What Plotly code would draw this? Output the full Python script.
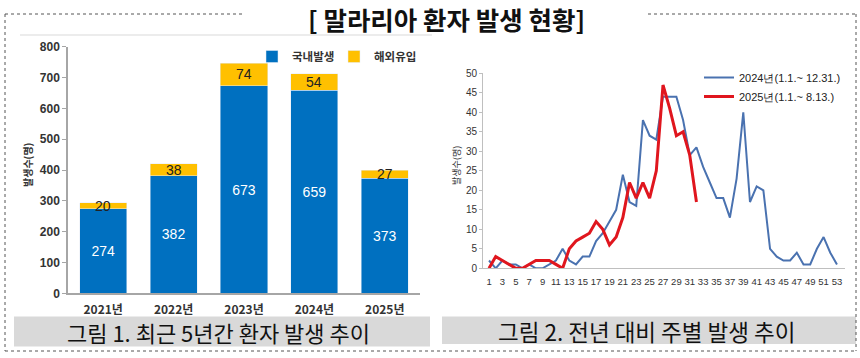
import plotly.graph_objects as go

# ---- data ----
years = ["2021년", "2022년", "2023년", "2024년", "2025년"]
domestic = [274, 382, 673, 659, 373]
imported = [20, 38, 74, 54, 27]

weeks_2024 = list(range(1, 54))
cases_2024 = [2, 0, 2, 1, 1, 0, 1, 0, 0, 1, 2, 5, 2, 1, 3, 3, 7, 9, 12, 15,
              24, 17, 16, 38, 34, 33, 44, 44, 44, 38, 29, 31, 26, 22, 18, 18, 13, 23, 40, 17,
              21, 20, 5, 3, 2, 2, 4, 1, 1, 5, 8, 4, 1]
weeks_2025 = list(range(1, 33))
cases_2025 = [0, 3, 2, 1, 0, 0, 1, 2, 2, 2, 1, 0, 5, 7, 8, 9, 12, 10, 6, 8,
              13, 22, 18, 22, 18, 25, 47, 41, 34, 35, 29, 17]
week_ticks = list(range(1, 54, 2))

W, H = 860, 358
def px(x): return x / W
def py(y): return 1 - y / H

KR = "Noto Sans CJK KR"
NUM = "Liberation Sans"
BLUE = "#0070C0"
GOLD = "#FFC000"

fig = go.Figure()

fig.add_trace(go.Bar(
    x=years, y=domestic, name="국내발생", marker_color=BLUE,
    text=[str(v) for v in domestic], textposition="inside", insidetextanchor="middle",
    textfont=dict(family=NUM, size=14, color="white"), constraintext="none",
    xaxis="x", yaxis="y", legend="legend"))
fig.add_trace(go.Bar(
    x=years, y=imported, name="해외유입", marker_color=GOLD,
    xaxis="x", yaxis="y", legend="legend3"))

fig.add_trace(go.Scatter(
    x=weeks_2024, y=cases_2024, mode="lines", name="2024년(1.1.~ 12.31.)",
    line=dict(color="#4A72B0", width=2), xaxis="x2", yaxis="y2", legend="legend2"))
fig.add_trace(go.Scatter(
    x=weeks_2025, y=cases_2025, mode="lines", name="2025년(1.1.~ 8.13.)",
    line=dict(color="#E0161E", width=3), xaxis="x2", yaxis="y2", legend="legend2"))

axis_line = "#A6A6A6"
legfont = dict(family=KR, size=11.5, color="#333333", weight="bold")
fig.update_layout(
    width=W, height=H, margin=dict(l=0, r=0, t=0, b=0, autoexpand=False),
    paper_bgcolor="white", plot_bgcolor="rgba(0,0,0,0)",
    barmode="stack", bargap=0.33,
    xaxis=dict(domain=[px(68), px(420)], anchor="y", showline=True, linecolor=axis_line, linewidth=1.5,
               ticks="", showgrid=False, automargin=False, ticklabelstandoff=5,
               tickfont=dict(family=KR, size=12, color="#333333", weight="bold")),
    yaxis=dict(domain=[py(293.3), py(46.7)], anchor="x", range=[0, 800], dtick=100,
               showline=True, linecolor=axis_line, linewidth=1.5, ticks="outside",
               ticklen=4, tickcolor=axis_line, showgrid=False, zeroline=False, automargin=False,
               tickfont=dict(family=NUM, size=12, color="#333333", weight="bold")),
    xaxis2=dict(domain=[px(483), px(845)], anchor="y2", range=[0.1, 54.2], tickvals=week_ticks,
                tickangle=0, showline=True, linecolor="#BFBFBF", linewidth=1, ticks="", showgrid=False,
                zeroline=False, automargin=False, ticklabelstandoff=4,
                tickfont=dict(family=NUM, size=9.5, color="#333333")),
    yaxis2=dict(domain=[py(268.3), py(73.3)], anchor="x2", range=[0, 50], dtick=5,
                showline=True, linecolor="#BFBFBF", linewidth=1, ticks="outside",
                ticklen=3, tickcolor="#BFBFBF", showgrid=False, zeroline=False, automargin=False,
                tickfont=dict(family=NUM, size=10, color="#333333")),
    legend=dict(orientation="h", x=px(252), y=py(42), xanchor="left", yanchor="top",
                font=legfont, bgcolor="rgba(0,0,0,0)", itemwidth=30),
    legend3=dict(orientation="h", x=px(334), y=py(42), xanchor="left", yanchor="top",
                 font=legfont, bgcolor="rgba(0,0,0,0)", itemwidth=30),
    legend2=dict(orientation="v", x=px(699), y=py(63), xanchor="left", yanchor="top",
                 font=dict(family=NUM, size=11, color="#222222"),
                 bgcolor="rgba(0,0,0,0)", itemwidth=30, tracegroupgap=4),
    showlegend=True,
)

shapes = []
dot = dict(color="#555555", width=1, dash="dot")
shapes.append(dict(type="line", xref="paper", yref="paper", x0=px(5), x1=px(245), y0=py(14), y1=py(14), line=dot))
shapes.append(dict(type="line", xref="paper", yref="paper", x0=px(648), x1=px(856), y0=py(14), y1=py(14), line=dot))
shapes.append(dict(type="line", xref="paper", yref="paper", x0=px(5), x1=px(5), y0=py(14), y1=py(351), line=dot))
shapes.append(dict(type="line", xref="paper", yref="paper", x0=px(856), x1=px(856), y0=py(14), y1=py(351), line=dot))
shapes.append(dict(type="line", xref="paper", yref="paper", x0=px(5), x1=px(856), y0=py(351), y1=py(351), line=dot))
shapes.append(dict(type="line", xref="paper", yref="paper", x0=px(20), x1=px(432), y0=py(35), y1=py(35),
                   line=dict(color="#E6E6E6", width=1.5)))
shapes.append(dict(type="rect", xref="paper", yref="paper", x0=px(14), x1=px(430), y0=py(346.5), y1=py(316.5),
                   fillcolor="#D9D9D9", line=dict(width=0), layer="below"))
shapes.append(dict(type="rect", xref="paper", yref="paper", x0=px(442), x1=px(856), y0=py(344), y1=py(316.5),
                   fillcolor="#D9D9D9", line=dict(width=0), layer="below"))
fig.update_layout(shapes=shapes)

ann = [
    dict(text="[ 말라리아 환자 발생 현황]", x=px(446), y=py(18), xref="paper", yref="paper",
         xanchor="center", yanchor="middle",
         showarrow=False, font=dict(family=KR, size=25.5, color="#111111", weight="bold")),
    dict(text="그림 1. 최근 5년간 환자 발생 추이", x=px(218), y=py(331.5), xref="paper", yref="paper",
         xanchor="center", yanchor="middle",
         showarrow=False, font=dict(family=KR, size=22, color="#111111")),
    dict(text="그림 2. 전년 대비 주별 발생 추이", x=px(646), y=py(330.5), xref="paper", yref="paper",
         xanchor="center", yanchor="middle",
         showarrow=False, font=dict(family=KR, size=22.5, color="#111111")),
    dict(text="발생수(명)", x=px(27), y=py(165), xref="paper", yref="paper", textangle=-90,
         xanchor="center", yanchor="middle",
         showarrow=False, font=dict(family=KR, size=10, color="#333333", weight="bold")),
    dict(text="발생수(명)", x=px(456), y=py(165), xref="paper", yref="paper", textangle=-90,
         xanchor="center", yanchor="middle",
         showarrow=False, font=dict(family=KR, size=9, color="#333333")),
]
# imported-case labels centred on the gold segments
for yr, d, i in zip(years, domestic, imported):
    ann.append(dict(text=str(i), x=yr, y=d + i / 2, xref="x", yref="y", showarrow=False,
                    font=dict(family=NUM, size=14, color="#222222")))
fig.update_layout(annotations=ann)

fig.write_html("out.html", config={"displayModeBar": False},
               post_script="document.body.style.margin='0';document.body.style.overflow='hidden';")
